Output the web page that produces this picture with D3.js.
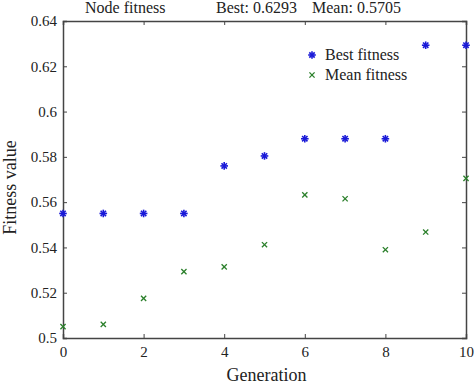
<!DOCTYPE html>
<html>
<head>
<meta charset="utf-8">
<script src="https://cdn.jsdelivr.net/npm/d3@7"></script>
<style>
  body { margin: 0; background: #fff; }
  text { font-family: "Liberation Serif", "DejaVu Serif", serif; fill: #222; }
</style>
</head>
<body>
<div id="chart"></div>
<script>
var generations = [0, 1, 2, 3, 4, 5, 6, 7, 8, 9, 10];
var bestFitness = [0.555, 0.555, 0.555, 0.555, 0.576, 0.5804, 0.588, 0.588, 0.588, 0.6293, 0.6293];
var meanFitness = [0.505, 0.506, 0.5175, 0.5293, 0.5314, 0.5412, 0.5632, 0.5615, 0.539, 0.5468, 0.5705];
var xTicks = [0, 2, 4, 6, 8, 10];
var yTicks = [0.5, 0.52, 0.54, 0.56, 0.58, 0.6, 0.62, 0.64];

var width = 474, height = 382;
var margin = {top: 21, right: 8, bottom: 44, left: 63};
var innerW = width - margin.left - margin.right;
var innerH = height - margin.top - margin.bottom;
var serif = '"Liberation Serif", "DejaVu Serif", serif';

var svg = d3.select('#chart').append('svg')
  .attr('width', width)
  .attr('height', height)
  .attr('font-family', serif);

var g = svg.append('g')
  .attr('transform', 'translate(' + margin.left + ',' + margin.top + ')');

var x = d3.scaleLinear().domain([0, 10]).range([0, innerW]);
var y = d3.scaleLinear().domain([0.5, 0.64]).range([innerH, 0]);

var axisColor = '#444';
var fmt = function(d) { return String(+d.toFixed(2)); };

// bottom and left axes with labels, ticks pointing inward
var xAxis = g.append('g')
  .attr('transform', 'translate(0,' + innerH + ')')
  .call(d3.axisBottom(x).tickValues(xTicks).tickSize(-4).tickPadding(8).tickFormat(d3.format('d')));
var yAxis = g.append('g')
  .call(d3.axisLeft(y).tickValues(yTicks).tickSize(-4).tickPadding(6).tickFormat(fmt));
// top and right axes, ticks only
var xTop = g.append('g')
  .call(d3.axisTop(x).tickValues(xTicks).tickSize(-4).tickFormat(''));
var yRight = g.append('g')
  .attr('transform', 'translate(' + innerW + ',0)')
  .call(d3.axisRight(y).tickValues(yTicks).tickSize(-4).tickFormat(''));

[xAxis, yAxis, xTop, yRight].forEach(function(a) {
  a.attr('font-family', serif).attr('font-size', 15);
  a.selectAll('path').attr('stroke', axisColor).attr('stroke-width', 1.5);
  a.selectAll('line').attr('stroke', axisColor).attr('stroke-width', 1);
  a.selectAll('text').attr('fill', '#222');
});
xAxis.selectAll('text').attr('dy', '0.71em');

function star(sel, cx, cy, r, color) {
  var gg = sel.append('g').attr('transform', 'translate(' + cx + ',' + cy + ')')
    .attr('stroke', color).attr('stroke-width', 1.6);
  [0, 45, 90, 135].forEach(function(a) {
    var rad = a * Math.PI / 180;
    gg.append('line')
      .attr('x1', -r * Math.cos(rad)).attr('y1', -r * Math.sin(rad))
      .attr('x2', r * Math.cos(rad)).attr('y2', r * Math.sin(rad));
  });
}
function cross(sel, cx, cy, r, color) {
  var gg = sel.append('g').attr('transform', 'translate(' + cx + ',' + cy + ')')
    .attr('stroke', color).attr('stroke-width', 1.3);
  gg.append('line').attr('x1', -r).attr('y1', -r).attr('x2', r).attr('y2', r);
  gg.append('line').attr('x1', -r).attr('y1', r).attr('x2', r).attr('y2', -r);
}

var blue = '#1a1ad8';
var green = '#2a7f2a';

generations.forEach(function(gen, i) {
  star(g, x(gen), y(bestFitness[i]), 3.8, blue);
  cross(g, x(gen), y(meanFitness[i]), 2.6, green);
});

// legend
star(svg, 312, 55, 3.8, blue);
svg.append('text').attr('x', 325).attr('y', 60).style('font-size', '16px').text('Best fitness');
cross(svg, 312, 75, 2.6, green);
svg.append('text').attr('x', 325).attr('y', 80).style('font-size', '16px').text('Mean fitness');

// title row
svg.append('text').attr('x', 85).attr('y', 13).style('font-size', '16px').text('Node fitness');
svg.append('text').attr('x', 216).attr('y', 13).style('font-size', '16px')
  .text('Best: ' + bestFitness[bestFitness.length - 1].toFixed(4));
svg.append('text').attr('x', 312).attr('y', 13).style('font-size', '16px')
  .text('Mean: ' + meanFitness[meanFitness.length - 1].toFixed(4));

// axis titles
svg.append('text')
  .attr('x', margin.left + innerW / 2 + 2).attr('y', 381)
  .attr('text-anchor', 'middle').style('font-size', '18px').text('Generation');
svg.append('text')
  .attr('transform', 'translate(16,' + (margin.top + innerH / 2 + 8) + ') rotate(-90)')
  .attr('text-anchor', 'middle').style('font-size', '18px').text('Fitness value');
</script>
</body>
</html>
